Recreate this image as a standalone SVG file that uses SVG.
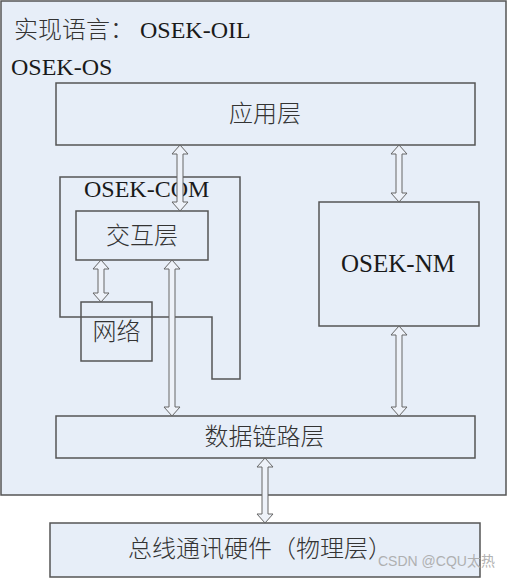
<svg xmlns="http://www.w3.org/2000/svg" width="507" height="578" viewBox="0 0 507 578">
<style>
.box{fill:none;stroke:#555;stroke-width:1.5}
.fbox{fill:#E7EEF8;stroke:#555;stroke-width:1.5}
.lat{font-family:"Liberation Serif","Times New Roman",serif;font-size:24px;fill:#1a1a1a}
.cjk{font-family:"Noto Sans CJK SC","Noto Sans CJK JP",sans-serif;font-size:24px;fill:#333;font-weight:300}
.arr{fill:#EEF2F9;stroke:#666;stroke-width:1}
.wm{font-family:"Liberation Sans",Arial,"Noto Sans CJK SC",sans-serif;font-size:14px;fill:#aaa;opacity:0.9}
</style>
<rect x="0" y="0" width="507" height="578" fill="#fff"/>
<g id="osek-oil">
<rect class="fbox" x="1" y="1" width="505" height="494"/>
<text x="14" y="38"><tspan class="cjk">实现语言：</tspan><tspan class="lat" x="140">OSEK-OIL</tspan></text>
</g>
<g id="osek-os">
<text class="lat" x="11" y="75">OSEK-OS</text>
</g>
<g id="app">
<rect class="box" x="56" y="83" width="419" height="62"/>
<text class="cjk" x="265" y="122" text-anchor="middle">应用层</text>
</g>
<g id="osek-com">
<polygon class="box" points="60,177 240,177 240,379 212,379 212,317 60,317"/>
<text class="lat" x="84" y="197">OSEK-COM</text>
</g>
<g id="interact">
<rect class="box" x="76" y="211" width="132" height="49"/>
<text class="cjk" x="142" y="244" text-anchor="middle">交互层</text>
</g>
<g id="network">
<rect class="box" x="81" y="302" width="71" height="59"/>
<text class="cjk" x="116.5" y="340" text-anchor="middle">网络</text>
</g>
<g id="osek-nm">
<rect class="box" x="319" y="202" width="160" height="124"/>
<text class="lat" x="398" y="272" text-anchor="middle" style="font-size:25px">OSEK-NM</text>
</g>
<g id="datalink">
<rect class="box" x="56" y="416" width="419" height="42"/>
<text class="cjk" x="264.5" y="445" text-anchor="middle">数据链路层</text>
</g>
<g id="physical">
<rect class="fbox" x="50" y="523" width="430" height="54"/>
<text class="cjk" x="128" y="557">总线通讯硬件（物理层）</text>
</g>
<g id="connectors">
<polygon class="arr" points="180,145 188,154 183,154 183,202 188,202 180,211 172,202 177,202 177,154 172,154"/>
<polygon class="arr" points="399,145 407,154 402,154 402,193 407,193 399,202 391,193 396,193 396,154 391,154"/>
<polygon class="arr" points="399,326 407,335 402,335 402,407 407,407 399,416 391,407 396,407 396,335 391,335"/>
<polygon class="arr" points="172,260 180,269 175,269 175,407 180,407 172,416 164,407 169,407 169,269 164,269"/>
<polygon class="arr" points="101,260 109,269 104,269 104,293 109,293 101,302 93,293 98,293 98,269 93,269"/>
<polygon class="arr" points="265,458 273,467 268,467 268,514 273,514 265,523 257,514 262,514 262,467 257,467"/>
</g>
<text class="wm" x="378" y="566">CSDN @CQU太热</text>
</svg>
